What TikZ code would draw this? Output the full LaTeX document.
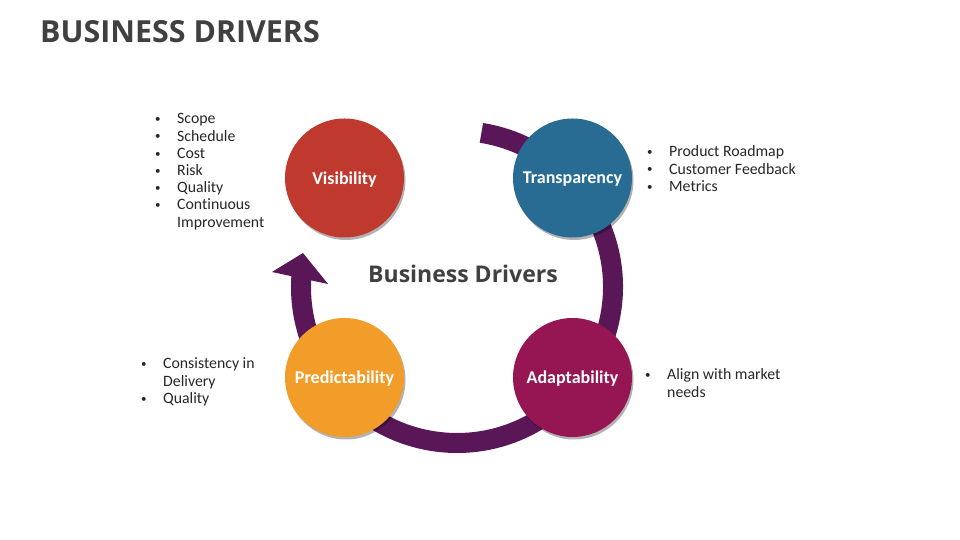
\documentclass[tikz,border=0pt]{standalone}
\usepackage{fontspec}
\setmainfont{Carlito}[Ligatures=NoCommon]
\newfontfamily\headfont{Open Sans}
\usetikzlibrary{shadows}

\definecolor{visred}{RGB}{191,57,46}
\definecolor{transblue}{RGB}{40,108,148}
\definecolor{predorange}{RGB}{242,157,42}
\definecolor{adaptplum}{RGB}{149,22,83}
\definecolor{ringpurple}{RGB}{90,23,88}
\definecolor{headgray}{RGB}{64,64,64}
\definecolor{bodytext}{RGB}{38,38,38}

\tikzset{
  driver/.style={circle, minimum size=119pt, inner sep=0pt, text=white, text depth=0pt,
    font=\fontsize{18}{20}\selectfont\bfseries,
    drop shadow={shadow xshift=1.5pt, shadow yshift=-2.5pt, opacity=0.3, fill=black}},
  ring/.style={line width=20pt, draw=ringpurple},
  notes/.style={anchor=base west, inner sep=0pt, text=bodytext,
    font=\fontsize{15.8}{17.2}\selectfont}
}
\newcommand{\notelist}[1]{\begin{tabular}[t]{@{}p{22pt}@{}l@{}}#1\end{tabular}}
\newcommand{\bul}{\raisebox{1.2pt}{\fontsize{11}{12}\selectfont\textbullet}}

\begin{document}
\begin{tikzpicture}[x=1pt,y=1pt]
\useasboundingbox (0,0) rectangle (960,540);
\node[anchor=base west, inner sep=0pt, text=headgray,
  font=\headfont\bfseries\fontsize{30.4}{36}\selectfont] (title) at (40,497) {BUSINESS DRIVERS};
% ring with arrow head
\draw[ring] (481.4,407.1) arc[start angle=81, end angle=-186, radius=156];
\fill[ringpurple] (272,268) -- (303,287) -- (328,256) -- cycle;
% drivers
\node[driver, fill=visred] (vis) at (344.5,362) {Visibility};
\node[driver, fill=transblue] (trans) at (572.5,362) {Transparency};
\node[driver, fill=predorange] (pred) at (344.5,162.5) {Predictability};
\node[driver, fill=adaptplum] (adapt) at (572.5,162.5) {Adaptability};
\node[anchor=base, inner sep=0pt, text=headgray,
  font=\headfont\bfseries\fontsize{23}{28}\selectfont] (center) at (463,257) {Business Drivers};
% notes
\node[notes] (visnotes) at (155,416) {\notelist{\bul & Scope\\ \bul & Schedule\\
  \bul & Cost\\ \bul & Risk\\ \bul & Quality\\
  \bul & Continuous\\ & Improvement}};
\node[notes] (transnotes) at (647,383) {\notelist{\bul & Product Roadmap\\
  \bul & Customer Feedback\\ \bul & Metrics}};
\node[notes] (prednotes) at (141,171) {\notelist{\bul & Consistency in\\
  & Delivery\\ \bul & Quality}};
\node[notes] (adaptnotes) at (645,160) {\notelist{\bul & Align with market\\ & needs}};
\end{tikzpicture}
\end{document}
